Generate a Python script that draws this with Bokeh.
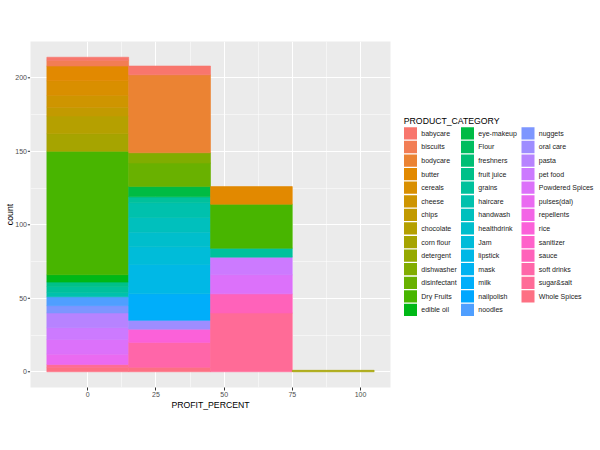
import math

from bokeh.plotting import figure
from bokeh.layouts import row
from bokeh.models import Range1d, FixedTicker, ColumnDataSource
from bokeh.core.properties import value
from bokeh.embed import file_html
from bokeh.resources import INLINE

# ---- data -----------------------------------------------------------------
categories = [
    "babycare", "biscuits", "bodycare", "butter", "cereals", "cheese", "chips",
    "chocolate", "corn flour", "detergent", "dishwasher", "disinfectant",
    "Dry Fruits", "edible oil",
    "eye-makeup", "Flour", "freshners", "fruit juice", "grains", "haircare",
    "handwash", "healthdrink", "Jam", "lipstick", "mask", "milk", "nailpolish",
    "noodles",
    "nuggets", "oral care", "pasta", "pet food", "Powdered Spices",
    "pulses(dal)", "repellents", "rice", "sanitizer", "sauce", "soft drinks",
    "sugar&salt", "Whole Spices",
]

bin_centers = [0, 30, 60, 90]
bin_width = 30

# products per PROFIT_PERCENT bin, by category (categories not listed: 0)
counts_bin_0 = {
    "babycare": 2, "biscuits": 4, "butter": 10, "cereals": 10, "cheese": 8,
    "chips": 6, "chocolate": 12, "corn flour": 12, "Dry Fruits": 84,
    "edible oil": 5, "fruit juice": 3, "grains": 4, "haircare": 3,
    "noodles": 6, "nuggets": 5, "pasta": 10, "pet food": 8,
    "Powdered Spices": 10, "pulses(dal)": 7, "sugar&salt": 2,
    "Whole Spices": 3,
}
counts_bin_30 = {
    "babycare": 6, "bodycare": 53, "dishwasher": 7, "disinfectant": 16,
    "eye-makeup": 7, "grains": 4, "haircare": 10, "handwash": 10,
    "healthdrink": 10, "Jam": 12, "lipstick": 20, "milk": 18,
    "oral care": 6, "rice": 9, "soft drinks": 17, "Whole Spices": 3,
}
counts_bin_60 = {
    "butter": 12, "Dry Fruits": 30, "grains": 6, "pet food": 12,
    "Powdered Spices": 13, "sauce": 13, "sugar&salt": 40,
}
counts_bin_90 = {
    "corn flour": 1,
}
bin_counts = [counts_bin_0, counts_bin_30, counts_bin_60, counts_bin_90]

x_ticks = [0, 25, 50, 75, 100]
y_ticks = [0, 50, 100, 150, 200]


# ---- discrete hue palette (HCL, c=100, l=65) ------------------------------
def hcl_hex(h, c, l):
    wx, wy, wz = 95.047, 100.0, 108.883
    wu, wv = 0.1978398, 0.4683363
    hr = math.radians(h)
    u_ = c * math.cos(hr)
    v_ = c * math.sin(hr)
    y = wy * (((l + 16) / 116) ** 3 if l > 7.999592 else l / 903.3)
    u = u_ / (13 * l) + wu
    v = v_ / (13 * l) + wv
    x = 9.0 * y * u / (4 * v)
    z = -x / 3 - 5 * y + 3 * y / v

    def gtrans(t):
        return 1.055 * t ** (1 / 2.4) - 0.055 if t > 0.00304 else 12.92 * t

    r = gtrans((3.240479 * x - 1.537150 * y - 0.498535 * z) / wy)
    g = gtrans((-0.969256 * x + 1.875992 * y + 0.041556 * z) / wy)
    b = gtrans((0.055648 * x - 0.204043 * y + 1.057311 * z) / wy)
    chans = [min(1.0, max(0.0, ch)) for ch in (r, g, b)]
    return "#" + "".join("%02X" % int(255 * ch + 0.5) for ch in chans)


n_cat = len(categories)
palette = [hcl_hex((15 + 360 * i / n_cat) % 360, 100, 65) for i in range(n_cat)]
colour_of = dict(zip(categories, palette))

# ---- stacked histogram pieces (first category on top) ---------------------
left, right, bottom, top, fill = [], [], [], [], []
totals = []
for centre, counts in zip(bin_centers, bin_counts):
    base = 0
    for cat in reversed(categories):
        n = counts.get(cat, 0)
        if n:
            left.append(centre - bin_width / 2)
            right.append(centre + bin_width / 2)
            bottom.append(base)
            top.append(base + n)
            fill.append(colour_of[cat])
            base += n
    totals.append(base)

src = ColumnDataSource(dict(left=left, right=right, bottom=bottom, top=top, fill=fill))

x_lo = bin_centers[0] - bin_width / 2
x_hi = bin_centers[-1] + bin_width / 2
x_pad = 0.05 * (x_hi - x_lo)
y_hi = max(totals)
y_pad = 0.05 * y_hi

FONT = "Liberation Sans"
TOP, BOTTOM = 41, 63          # panel borders shared by all three figures
LEFT_STRIP = 30               # width of the y-axis strip left of the panel
TICK = 2.7

p = figure(
    width=400 - LEFT_STRIP, height=450,
    x_range=Range1d(x_lo - x_pad, x_hi + x_pad),
    y_range=Range1d(-y_pad, y_hi + y_pad),
    min_border_left=0, min_border_right=10,
    min_border_top=TOP, min_border_bottom=BOTTOM,
    y_axis_location=None,
    toolbar_location=None, output_backend="svg",
    background_fill_color="#EBEBEB", border_fill_color="white",
    outline_line_color=None,
)

p.quad(left="left", right="right", bottom="bottom", top="top", source=src,
       fill_color="fill", line_color="fill", line_width=0.6)

xt = FixedTicker(ticks=x_ticks, minor_ticks=[12.5, 37.5, 62.5, 87.5])
yt = FixedTicker(ticks=y_ticks, minor_ticks=[25, 75, 125, 175])
p.xaxis.ticker = xt
p.xgrid.ticker = xt
p.ygrid.ticker = yt

for g in (p.xgrid, p.ygrid):
    g.grid_line_color = "white"
    g.grid_line_width = 1.1
    g.minor_grid_line_color = "white"
    g.minor_grid_line_width = 0.5

ax = p.xaxis
ax.axis_line_color = None
ax.major_tick_line_color = "#333333"
ax.major_tick_line_width = 1
ax.major_tick_in = 0
ax.major_tick_out = 3
ax.minor_tick_line_color = None
ax.major_label_text_color = "#4D4D4D"
ax.major_label_text_font = FONT
ax.major_label_text_font_size = "7px"
ax.axis_label_text_font = FONT
ax.axis_label_text_font_size = "8.7px"
ax.axis_label_text_font_style = "normal"
ax.axis_label_text_color = "black"
ax.major_label_standoff = 0
ax.axis_label_standoff = 0
ax.axis_label = "PROFIT_PERCENT"

# ---- y axis strip: ticks, tick labels and title -----------------------------
ylab = figure(
    width=LEFT_STRIP, height=450,
    x_range=Range1d(0, LEFT_STRIP), y_range=p.y_range,
    min_border=0, min_border_top=TOP, min_border_bottom=BOTTOM,
    toolbar_location=None, output_backend="svg",
    x_axis_location=None, y_axis_location=None,
    background_fill_color="white", border_fill_color="white",
    outline_line_color=None,
)
ylab.grid.visible = False
ylab.segment(x0=[LEFT_STRIP - TICK] * len(y_ticks), y0=y_ticks,
             x1=[LEFT_STRIP] * len(y_ticks), y1=y_ticks,
             line_color="#333333", line_width=1)
ylab.text(x=[LEFT_STRIP - TICK - 0.8] * len(y_ticks), y=y_ticks,
          text=[str(t) for t in y_ticks], text_font=value(FONT),
          text_font_size="7px", text_color="#4D4D4D",
          text_align="right", text_baseline="middle")
ylab.text(x=[9.5], y=[(p.y_range.start + p.y_range.end) / 2], text=["count"],
          angle=math.pi / 2, text_font=value(FONT), text_font_size="8.7px",
          text_color="black", text_align="center", text_baseline="middle")

# ---- legend panel (coordinates in page pixels) -------------------------------
leg = figure(
    width=200, height=450,
    x_range=Range1d(400, 600), y_range=Range1d(450 - BOTTOM, TOP),
    min_border=0, min_border_top=TOP, min_border_bottom=BOTTOM,
    toolbar_location=None, output_backend="svg",
    x_axis_location=None, y_axis_location=None,
    background_fill_color="white", border_fill_color="white",
    outline_line_color=None,
)
leg.grid.visible = False

rows_per_col = 14
col_left = [403.5, 460.5, 521.0]
row0_y = 132.9
row_step = 13.58
key_w, key_h = 13.0, 12.3

kx, ky, lx = [], [], []
for i, cat in enumerate(categories):
    c, r = divmod(i, rows_per_col)
    kx.append(col_left[c] + key_w / 2)
    ky.append(row0_y + r * row_step)
    lx.append(col_left[c] + 17.3)

leg.rect(x=kx, y=ky, width=key_w, height=key_h, fill_color=palette, line_color=None)
leg.text(x=lx, y=ky, text=categories, text_font=value(FONT), text_font_size="7px",
         text_color="#1A1A1A", text_baseline="middle", text_align="left")
leg.text(x=[403.3], y=[120.5], text=["PRODUCT_CATEGORY"], text_font=value(FONT),
         text_font_size="8.7px", text_color="black", text_baseline="alphabetic",
         text_align="left")

layout = row(ylab, p, leg)
open("out.html", "w").write(file_html(layout, INLINE))
